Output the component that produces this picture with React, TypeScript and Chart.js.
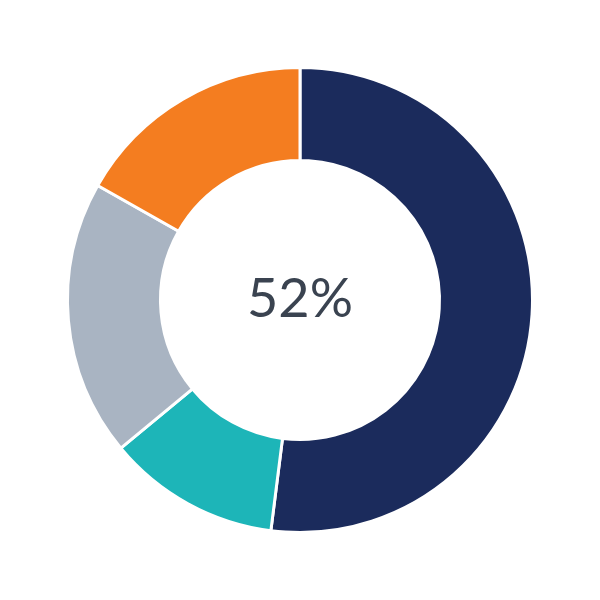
import React, { useEffect, useRef } from "react";
import { Chart, registerables } from "chart.js";

Chart.register(...registerables);

const labels = ["Navy", "Teal", "Gray", "Orange"];
const values = [52, 12, 19.2, 16.8];
const colors = ["#1B2B5C", "#1DB5B8", "#A9B4C2", "#F47D20"];
const centerText = "52%";

const centerPlugin = {
  id: "centerText",
  afterDraw(chart: any) {
    const { ctx, chartArea } = chart;
    const cx = (chartArea.left + chartArea.right) / 2;
    const cy = (chartArea.top + chartArea.bottom) / 2;
    ctx.save();
    ctx.font = "400 54px Lato";
    ctx.fillStyle = "#3A4350";
    ctx.textAlign = "center";
    ctx.textBaseline = "middle";
    ctx.fillText(centerText, cx, cy);
    ctx.restore();
  },
};

export default function App() {
  const ref = useRef<HTMLCanvasElement>(null);
  useEffect(() => {
    const chart = new Chart(ref.current!, {
      type: "doughnut",
      data: {
        labels,
        datasets: [
          {
            data: values,
            backgroundColor: colors,
            borderColor: "#ffffff",
            borderWidth: 3,
          },
        ],
      },
      options: {
        animation: false,
        responsive: false,
        cutout: "60%",
        layout: { padding: 66 },
        plugins: { legend: { display: false }, tooltip: { enabled: false } },
      },
      plugins: [centerPlugin],
    });
    return () => chart.destroy();
  }, []);
  return (
    <div style={{ position: "fixed", left: 0, top: 0, width: 600, height: 600, background: "#fff" }}>
      <canvas ref={ref} width={600} height={600} style={{ width: 600, height: 600 }} />
    </div>
  );
}
